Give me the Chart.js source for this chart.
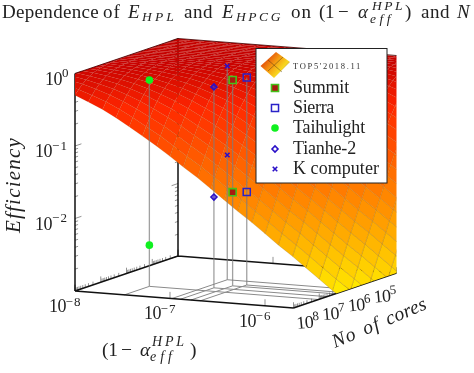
<!DOCTYPE html>
<html lang="en">
<head>
<meta charset="UTF-8">
<title>Dependence of E_HPL and E_HPCG</title>
<script src="https://cdn.jsdelivr.net/npm/chart.js"></script>
<style>
    html, body { margin: 0; padding: 0; background: #ffffff; }
    canvas { display: block; }
</style>
</head>
<body>
<canvas id="chart" width="474" height="373"></canvas>
<script>
// all exponents are log10 of the plotted quantity
const machines = ['Summit', 'Sierra', 'Taihulight', 'Tianhe-2', 'K computer'];
const machineAlpha = [-6.78, -6.68, -7.48, -6.89, -6.98];
const machineCores = [6.38, 6.20, 7.03, 6.70, 5.85];
const machineHPL = [0.69, 0.73, 0.70, 0.59, 0.887];
const machineHPCG = [0.0196, 0.0192, 0.0037, 0.0179, 0.0525];

const alphaRange = [-8, -5.7];
const coreRange = [8, 4];
const effRange = [-3, 0];

const alphaTicks = [-8, -7, -6];
const coreTicks = [8, 7, 6, 5];
const effTicks = [0, -1, -2];
const minorLog = [0.301, 0.477, 0.602, 0.699, 0.778, 0.845, 0.903, 0.954];

const alphaMesh = [-9.00, -8.86, -8.71, -8.57, -8.43, -8.29, -8.14, -8.00, -7.86, -7.71, -7.57,
    -7.43, -7.29, -7.14, -7.00, -6.86, -6.71, -6.57, -6.43, -6.29, -6.14, -6.00, -5.86, -5.71,
    -5.57, -5.43, -5.29, -5.14, -5.00, -4.86, -4.71, -4.57, -4.43];
const coreMesh = [4.00, 4.14, 4.29, 4.43, 4.57, 4.71, 4.86, 5.00, 5.14, 5.29, 5.43, 5.57, 5.71,
    5.86, 6.00, 6.14, 6.29, 6.43, 6.57, 6.71, 6.86, 7.00, 7.14, 7.29, 7.43, 7.57, 7.71, 7.86, 8.00];
// efficiency exponent, one entry per mesh step of alpha*N
const effMesh = [0, 0, 0, 0, 0, 0, 0, 0, 0, 0, 0, 0, 0, 0, 0,
    -0.001, -0.001, -0.001, -0.002, -0.002, -0.003, -0.004, -0.006, -0.008, -0.012, -0.016,
    -0.022, -0.030, -0.041, -0.057, -0.077, -0.103, -0.138, -0.181, -0.236, -0.301, -0.378,
    -0.467, -0.566, -0.675, -0.791, -0.914, -1.041, -1.173, -1.307, -1.444, -1.583, -1.723,
    -1.863, -2.004, -2.147, -2.288, -2.431, -2.573, -2.716, -2.858, -3.000, -3.143, -3.286,
    -3.430, -3.570];

// fixed view of the box, gives plot coordinates
function project(a, n, z) {
    const da = a + 8, dn = 8 - n;
    return {
        x: 75 + 95 * da + 25.75 * dn,
        y: 291 + 7.4 * da - 8.75 * dn - 72.5 * (z + 3)
    };
}

function effColor(z) {
    const t = Math.min(1, Math.max(0, -z / 3));
    const r = Math.round(Math.min(255, 200 + 55 * (t / 0.15)));
    const g = Math.round(255 * t);
    return `rgb(${r},${g},0)`;
}

function meshColor(z) {
    const t = Math.min(1, Math.max(0, -z / 2));
    return `rgba(140,95,0,${(0.08 + 0.27 * t).toFixed(2)})`;
}

function segments(list) {
    const pts = [];
    list.forEach(seg => {
        seg.forEach(p => pts.push(project(p[0], p[1], p[2])));
        pts.push({ x: NaN, y: NaN });
    });
    return pts;
}

function lineSet(list, color, width, order) {
    return {
        data: segments(list), showLine: true, borderColor: color, borderWidth: width,
        pointRadius: 0, fill: false, spanGaps: false, order: order
    };
}

const [aLo, aHi] = alphaRange;
const [nHi, nLo] = coreRange;
const [zLo, zHi] = effRange;

const datasets = [];

// back layer: box edges, ticks, floor drop lines
const edges = [
    [[aLo, nHi, zLo], [aHi, nHi, zLo]],
    [[aLo, nHi, zLo], [aLo, nLo, zLo]],
    [[aLo, nLo, zLo], [aHi, nLo, zLo]],
    [[aHi, nHi, zLo], [aHi, nLo, zLo]],
    [[aLo, nHi, zLo], [aLo, nHi, zHi]],
    [[aLo, nLo, zLo], [aLo, nLo, zHi]]
];
const ticks = [];
alphaTicks.forEach(a => {
    ticks.push([[a, nHi, zLo], [a, nHi, zLo + 0.09]]);
    ticks.push([[a, nLo, zLo], [a, nLo, zLo + 0.09]]);
});
[nHi, 7, 6, 5, nLo].forEach(n => {
    ticks.push([[aLo, n, zLo], [aLo, n, zLo + 0.08]]);
    ticks.push([[aHi, n, zLo], [aHi, n, zLo + 0.08]]);
});
[4, 5, 6, 7].forEach(d => minorLog.forEach(m => {
    ticks.push([[aLo, d + m, zLo], [aLo, d + m, zLo + 0.045]]);
    ticks.push([[aHi, d + m, zLo], [aHi, d + m, zLo + 0.045]]);
}));
[0, -1, -2, -3].forEach(z => {
    ticks.push([[aLo, nHi, z], [aLo, nHi - 0.25, z]]);
    ticks.push([[aLo, nLo, z], [aLo, nLo + 0.25, z]]);
});
[-3, -2, -1].forEach(d => minorLog.forEach(m => {
    ticks.push([[aLo, nHi, d + m], [aLo, nHi - 0.12, d + m]]);
    ticks.push([[aLo, nLo, d + m], [aLo, nLo + 0.12, d + m]]);
}));
const drops = [];
machines.forEach((name, i) => {
    drops.push([[machineAlpha[i], machineCores[i], zLo], [machineAlpha[i], nHi, zLo]]);
    drops.push([[machineAlpha[i], machineCores[i], zLo], [aHi, machineCores[i], zLo]]);
});

const backEdges = lineSet(edges, '#111111', 1.5, 3);
backEdges.clipStart = true;
datasets.push(backEdges);
datasets.push(lineSet(ticks, '#666666', 0.7, 3));
datasets.push(lineSet(drops, '#8a8a8a', 1, 3));

// surface cells, cut to the outline of the box by the plugin below
for (let i = 0; i < alphaMesh.length - 1; i++) {
    for (let j = 0; j < coreMesh.length - 1; j++) {
        const cell = [[i, j], [i + 1, j], [i + 1, j + 1], [i, j + 1], [i, j]];
        const zMean = (effMesh[i + j] + 2 * effMesh[i + j + 1] + effMesh[i + j + 2]) / 4;
        const ds = {
            data: cell.map(c => project(alphaMesh[c[0]], coreMesh[c[1]], effMesh[c[0] + c[1]])),
            showLine: true, fill: 'shape', backgroundColor: effColor(zMean),
            borderColor: meshColor(zMean), borderWidth: 0.7, pointRadius: 0, order: 2
        };
        if (i === 0 && j === 0) ds.clipEnd = true;
        datasets.push(ds);
    }
}

// dark outline on the top of the surface
datasets.push(lineSet([[[aLo, nHi, zHi], [aLo, nLo, zHi], [aHi, nLo, zHi]]], 'rgba(70,0,0,0.85)', 1, 1.5));

// machines: stems and markers
const markerStyles = [
    { pointStyle: 'rect', pointRadius: 5, pointBorderWidth: 1.6, pointBorderColor: '#44c21a', pointBackgroundColor: '#a81c10' },
    { pointStyle: 'rect', pointRadius: 5, pointBorderWidth: 1.5, pointBorderColor: '#2a22c8', pointBackgroundColor: 'rgba(0,0,0,0)' },
    { pointStyle: 'circle', pointRadius: 3.8, pointBorderWidth: 0, pointBorderColor: '#00f020', pointBackgroundColor: '#10f020' },
    { pointStyle: 'rectRot', pointRadius: 3, pointBorderWidth: 1.6, pointBorderColor: '#2a10c8', pointBackgroundColor: 'rgba(40,16,200,0.55)' },
    { pointStyle: 'crossRot', pointRadius: 3.2, pointBorderWidth: 1.6, pointBorderColor: '#2a10c8', pointBackgroundColor: '#2a10c8' }
];
machines.forEach((name, i) => {
    const a = machineAlpha[i], n = machineCores[i];
    datasets.push(lineSet([[[a, n, Math.log10(machineHPL[i])], [a, n, zLo]]], 'rgba(125,125,125,0.72)', 1.3, 1));
    datasets.push(Object.assign({
        label: name,
        data: [project(a, n, Math.log10(machineHPL[i])), project(a, n, Math.log10(machineHPCG[i]))],
        showLine: false, order: 0
    }, markerStyles[i]));
});

function txt(ctx, str, x, y, font, w) {
    ctx.font = font;
    ctx.letterSpacing = '0px';
    if (w) ctx.letterSpacing = ((w - ctx.measureText(str).width) / str.length) + 'px';
    ctx.fillText(str, x, y);
    ctx.letterSpacing = '0px';
}

const roman = s => s + 'px "Liberation Serif"';
const italic = s => 'italic ' + s + 'px "Liberation Serif"';

const boxClip = {
    id: 'boxClip',
    afterDatasetDraw(chart, args) {
        const ds = chart.data.datasets[args.index];
        const ctx = chart.ctx;
        if (ds.clipStart) {
            const sx = chart.scales.x, sy = chart.scales.y;
            const outline = [[aLo, nHi, zHi], [aLo, nLo, zHi], [aHi, nLo, zHi], [aHi, nLo, zLo], [aHi, nHi, zLo], [aLo, nHi, zLo]];
            ctx.save();
            ctx.beginPath();
            outline.forEach((c, i) => {
                const p = project(c[0], c[1], c[2]);
                const px = sx.getPixelForValue(p.x), py = sy.getPixelForValue(p.y);
                if (i === 0) ctx.moveTo(px, py); else ctx.lineTo(px, py);
            });
            ctx.closePath();
            ctx.clip();
        }
        if (ds.clipEnd) ctx.restore();
    }
};

function drawLogo(ctx) {
    const g = ctx.createLinearGradient(262, 54, 288, 76);
    g.addColorStop(0, '#d8200a');
    g.addColorStop(0.45, '#f59a10');
    g.addColorStop(0.72, '#f8d820');
    g.addColorStop(1, '#6a48b0');
    ctx.fillStyle = g;
    ctx.beginPath();
    ctx.moveTo(260.5, 66);
    ctx.lineTo(276, 52);
    ctx.lineTo(290, 62);
    ctx.lineTo(274, 78);
    ctx.closePath();
    ctx.fill();
    ctx.strokeStyle = 'rgba(60,40,20,0.7)';
    ctx.lineWidth = 0.6;
    ctx.beginPath();
    ctx.moveTo(268, 71);
    ctx.lineTo(283, 57);
    ctx.moveTo(268, 60);
    ctx.lineTo(282, 72);
    ctx.stroke();
}

function drawLegend(ctx) {
    ctx.fillStyle = '#ffffff';
    ctx.fillRect(256, 48.5, 131, 134.5);
    ctx.strokeStyle = '#222222';
    ctx.lineWidth = 1;
    ctx.strokeRect(256, 48.5, 131, 134.5);
    drawLogo(ctx);
    ctx.fillStyle = '#333333';
    txt(ctx, "TOP5'2018.11", 293, 69, roman(8.5), 69);
    const rowY = [88, 108, 128, 149, 169];
    const rowW = [56, 41, 72, 63, 86];
    machines.forEach((name, i) => {
        const st = markerStyles[i];
        ctx.fillStyle = i === 3 ? '#ffffff' : st.pointBackgroundColor;
        ctx.strokeStyle = st.pointBorderColor;
        ctx.lineWidth = st.pointBorderWidth;
        Chart.helpers.drawPoint(ctx, { pointStyle: st.pointStyle, radius: st.pointRadius, borderWidth: st.pointBorderWidth, rotation: 0 }, 275, rowY[i]);
        ctx.fillStyle = '#222222';
        txt(ctx, name, 293, rowY[i] + 5, roman(18), rowW[i]);
    });
}

function drawTexts(chart) {
    const ctx = chart.ctx;
    const sx = chart.scales.x, sy = chart.scales.y;
    ctx.save();
    ctx.textBaseline = 'alphabetic';
    ctx.textAlign = 'left';
    ctx.fillStyle = '#222222';

    // title
    txt(ctx, 'Dependence', 2, 18, roman(19), 97);
    txt(ctx, 'of', 103, 18, roman(19), 18);
    txt(ctx, 'E', 128, 18, italic(19));
    txt(ctx, 'HPL', 142, 21, italic(13.5), 35);
    txt(ctx, 'and', 184, 18, roman(19), 29);
    txt(ctx, 'E', 222, 18, italic(19));
    txt(ctx, 'HPCG', 236, 21, italic(13.5), 47);
    txt(ctx, 'on', 291, 18, roman(19), 21);
    txt(ctx, '(1', 319, 18, roman(19), 15);
    txt(ctx, '\u2212', 338, 18, roman(19));
    txt(ctx, '\u03b1', 358, 18, italic(19));
    txt(ctx, 'HPL', 372, 10, italic(13.5), 33);
    txt(ctx, 'eff', 370, 23, italic(13.5), 24);
    txt(ctx, ')', 405, 18, roman(19));
    txt(ctx, 'and', 421, 18, roman(19), 29);
    txt(ctx, 'N', 457, 18, italic(19));

    // tick labels
    const at = (a, n, z) => {
        const p = project(a, n, z);
        return { x: sx.getPixelForValue(p.x), y: sy.getPixelForValue(p.y) };
    };
    alphaTicks.forEach(a => {
        const p = at(a, nHi, zLo);
        txt(ctx, '10', p.x - 26, p.y + 21, roman(18), 17);
        txt(ctx, '\u2212' + (-a), p.x - 9.5, p.y + 14.5, roman(13), 16);
    });
    effTicks.forEach(z => {
        const p = at(aLo, nHi, z);
        const sup = z === 0 ? '0' : '\u2212' + (-z);
        const left = z === 0 ? p.x - 30 : p.x - 40;
        txt(ctx, '10', left, p.y + 11, roman(18), 17);
        txt(ctx, sup, left + 17, p.y + 3.5, roman(13), z === 0 ? 6 : 16);
    });
    coreTicks.forEach(n => {
        const p = at(aHi, n, zLo);
        ctx.save();
        ctx.translate(p.x + 3.5, p.y + 21);
        ctx.rotate(-5 * Math.PI / 180);
        txt(ctx, '10', 0, 0, roman(18), 16.5);
        txt(ctx, String(n), 16.5, -7, roman(13));
        ctx.restore();
    });

    // axis titles
    txt(ctx, '(1', 102, 356, roman(19.5), 16);
    txt(ctx, '\u2212', 121, 356, roman(19.5));
    txt(ctx, '\u03b1', 140, 356, italic(19.5));
    txt(ctx, 'HPL', 152, 346, italic(14), 35);
    txt(ctx, 'eff', 150, 361, italic(14), 26);
    txt(ctx, ')', 190, 356, roman(19.5));

    ctx.save();
    ctx.translate(20, 233);
    ctx.rotate(-Math.PI / 2);
    txt(ctx, 'Efficiency', 0, 0, italic(21), 96);
    ctx.restore();

    ctx.save();
    ctx.translate(335, 348);
    ctx.rotate(-23 * Math.PI / 180);
    txt(ctx, 'No', 0, 0, italic(19.5), 25);
    txt(ctx, 'of', 33, 0, italic(19.5), 18);
    txt(ctx, 'cores', 58, 0, italic(19.5), 43);
    ctx.restore();

    drawLegend(ctx);
    ctx.restore();
}

new Chart(document.getElementById('chart').getContext('2d'), {
    type: 'scatter',
    data: { datasets: datasets },
    options: {
        responsive: false,
        animation: false,
        events: [],
        layout: { autoPadding: false, padding: 0 },
        scales: {
            x: { type: 'linear', min: 0, max: 474, display: false },
            y: { type: 'linear', min: 0, max: 373, reverse: true, display: false }
        },
        plugins: { legend: { display: false }, tooltip: { enabled: false }, title: { display: false } }
    },
    plugins: [boxClip, { id: 'texts', afterDatasetsDraw: drawTexts }]
});
</script>
</body>
</html>
